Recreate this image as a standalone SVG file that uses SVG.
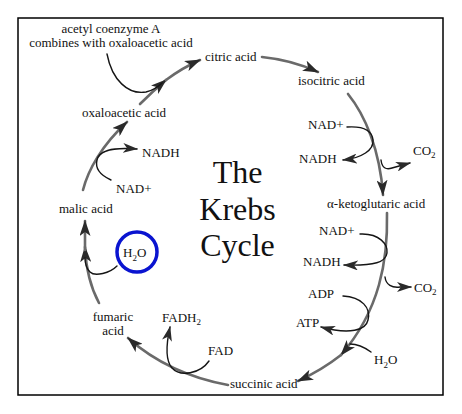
<svg xmlns="http://www.w3.org/2000/svg" width="462" height="414" viewBox="0 0 462 414">
<defs>
<style>
text{font-family:"Liberation Serif","Times New Roman",serif;font-size:13px;fill:#111}
.big{font-size:32px}
.sub{font-size:9px}
.main{fill:none;stroke:#6a6a6a;stroke-width:2.6;stroke-linecap:round}
.side{fill:none;stroke:#151515;stroke-width:1.4;stroke-linecap:round}
.main-a{marker-end:url(#ah)}
.side-a{marker-end:url(#as)}
</style>
<marker id="ah" viewBox="0 0 16 11" markerWidth="16" markerHeight="11" refX="15" refY="5.5" orient="auto" markerUnits="userSpaceOnUse">
<path d="M0,0 L16,5.5 L0,11 L4,5.5 z" fill="#2a2a2a"/>
</marker>
<marker id="as" viewBox="0 0 15 10" markerWidth="15" markerHeight="10" refX="14" refY="5" orient="auto" markerUnits="userSpaceOnUse">
<path d="M0,0 L15,5 L0,10 L4,5 z" fill="#2a2a2a"/>
</marker>
</defs>
<rect x="18" y="18" width="425" height="377" fill="#fff" stroke="#000" stroke-width="1.5"/>

<g id="connectors">
<path class="main main-a" d="M140,104 Q152,92 166,80"/>
<path class="main main-a" d="M166,80 Q182,68 200,60"/>
<path class="side" d="M107,54 C112,80 128,95 146,92 C154,90 159,86 162,83"/>
<path class="main main-a" d="M262,57 Q292,60 318,72"/>
<path class="main main-a" d="M348,94 C365,115 380,150 383,195"/>
<path class="side side-a" d="M347,127 C362,126 372,130 373,140 C374,150 362,158 343,160"/>
<path class="side side-a" d="M381,160 C382,168 386,170 392,168 L410,163"/>
<path class="main main-a" d="M387,213 C388,260 380,310 341,355"/>
<path class="main main-a" d="M341,355 Q322,370 298,381"/>
<path class="side side-a" d="M360,234 C380,233 388,245 387,253 C386,262 375,266 344,265"/>
<path class="side side-a" d="M385,277 C386,285 392,288 400,287 L411,287"/>
<path class="side side-a" d="M343,296 C362,297 371,308 368,320 C366,330 350,335 321,327"/>
<path class="side" d="M371,352 Q360,344 350,344"/>
<path class="main main-a" d="M228,385 C190,378 155,362 128,338"/>
<path class="side side-a" d="M209,361 C200,374 180,377 172,368 C165,360 166,345 170,327"/>
<path class="main main-a" d="M99,303 C92,290 86,270 85,247"/>
<path class="main main-a" d="M85,250 L85,221"/>
<path class="side" d="M117,266 C110,273 95,277 90,272 C86,268 85,262 85,258"/>
<path class="main main-a" d="M83,190 C88,170 102,145 127,122"/>
<path class="side side-a" d="M111,180 C100,175 95,168 97,160 C99,151 110,147 137,149"/>
</g>

<g id="title"><text class="big" x="237.5" y="183" text-anchor="middle">The</text><text class="big" x="237.5" y="220" text-anchor="middle">Krebs</text><text class="big" x="237.5" y="256" text-anchor="middle">Cycle</text></g>
<g id="acetyl"><text x="111" y="33" text-anchor="middle">acetyl coenzyme A</text><text x="111" y="47" text-anchor="middle">combines with oxaloacetic acid</text></g>
<g id="citric"><text x="205" y="61">citric acid</text></g>
<g id="isocitric"><text x="298" y="85">isocitric acid</text></g>
<g id="nad1"><text x="308" y="129">NAD+</text></g>
<g id="nadh1"><text x="299" y="163">NADH</text></g>
<g id="co2a"><text x="413" y="155">CO<tspan class="sub" dy="3">2</tspan></text></g>
<g id="ketoglutaric"><text x="327" y="208">α-ketoglutaric acid</text></g>
<g id="nad2"><text x="319" y="235">NAD+</text></g>
<g id="nadh2"><text x="303" y="266">NADH</text></g>
<g id="co2b"><text x="414" y="292">CO<tspan class="sub" dy="3">2</tspan></text></g>
<g id="adp"><text x="308" y="298">ADP</text></g>
<g id="atp"><text x="296" y="327">ATP</text></g>
<g id="h2o-right"><text x="374" y="364">H<tspan class="sub" dy="4">2</tspan><tspan dy="-4">O</tspan></text></g>
<g id="succinic"><text x="230" y="388">succinic acid</text></g>
<g id="fad"><text x="208" y="355">FAD</text></g>
<g id="fadh2"><text x="162" y="322">FADH<tspan class="sub" dy="3">2</tspan></text></g>
<g id="fumaric"><text x="113" y="321" text-anchor="middle">fumaric</text><text x="113" y="335" text-anchor="middle">acid</text></g>
<g id="h2o-left"><circle cx="137" cy="252" r="20" fill="none" stroke="#0a14d0" stroke-width="3.5"/><text x="123" y="257">H<tspan class="sub" dy="4">2</tspan><tspan dy="-4">O</tspan></text></g>
<g id="malic"><text x="59" y="213">malic acid</text></g>
<g id="nad3"><text x="116" y="193">NAD+</text></g>
<g id="nadh3"><text x="142" y="157">NADH</text></g>
<g id="oxaloacetic"><text x="82" y="117">oxaloacetic acid</text></g>
</svg>
